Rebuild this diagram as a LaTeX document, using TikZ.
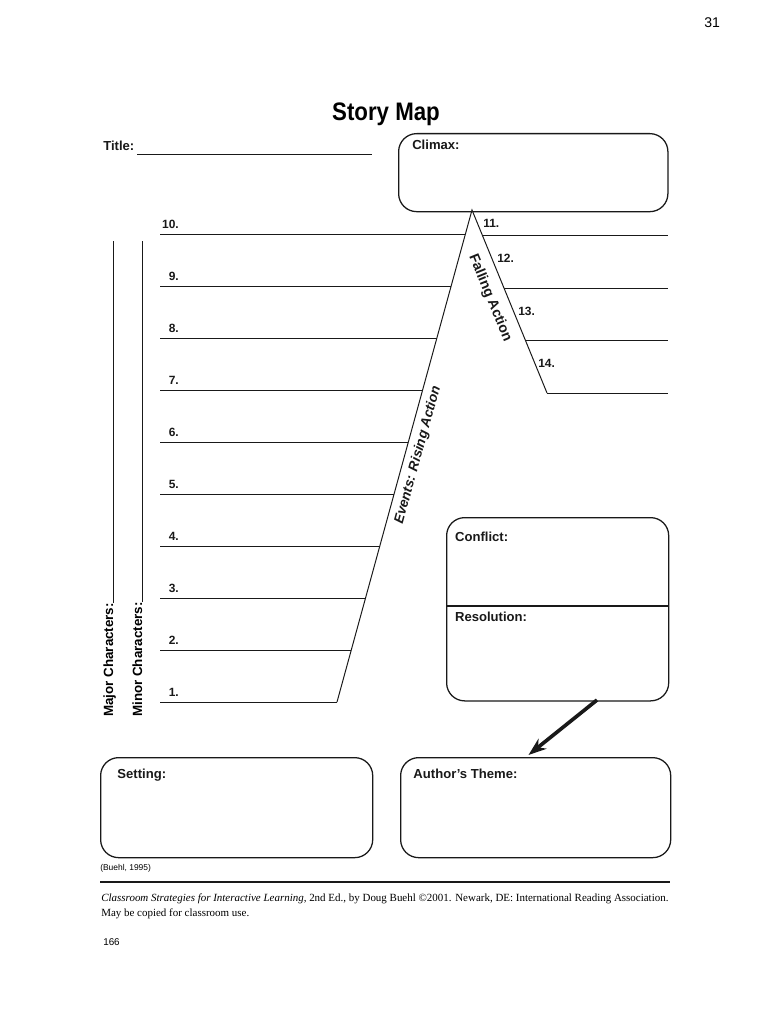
\documentclass[tikz,border=0pt]{standalone}
\usepackage{fontspec}
\setmainfont{Liberation Sans}
\newfontfamily\notefont{Liberation Serif}
\newfontfamily\headfont[FakeStretch=0.88]{Liberation Sans}
\usepackage{xcolor}
\usetikzlibrary{arrows.meta, positioning, calc}
\definecolor{inkDark}{RGB}{25, 25, 25}

\tikzset{
  mapbox/.style={draw=inkDark, line width=0.9pt, rounded corners=0.45cm, anchor=north west, inner sep=0pt},
  boxlabel/.style={font=\bfseries\fontsize{9.3}{11}\selectfont, text=inkDark, anchor=base west, inner sep=0pt},
  eventno/.style={font=\bfseries\fontsize{8.5}{10}\selectfont, text=inkDark, inner sep=0pt},
  writeline/.style={draw=inkDark, line width=0.7pt},
}

\begin{document}
\begin{tikzpicture}[x=0.025cm, y=-0.025cm]
    \useasboundingbox[fill=white] (0,0) rectangle (768,1024);
    % Page number and heading
    \node[anchor=base west, font=\fontsize{10}{12}\selectfont, inner sep=0pt] (pagetop) at (704,28) {31};
    \node[anchor=base, font=\headfont\bfseries\fontsize{18}{20}\selectfont, inner sep=0pt] (heading) at (386,121) {Story Map};
    \node[boxlabel] (titlelbl) at (103,151) {Title:};
    \draw[writeline] (137,154) -- (372,154);
    % Boxes
    \node[mapbox, minimum width=6.73cm, minimum height=1.95cm] (climax) at (398,133) {};
    \node[boxlabel] at ([shift={(0.35cm,-0.42cm)}]climax.north west) {Climax:};
    \node[mapbox, minimum width=5.55cm, minimum height=4.58cm] (conflict) at (446,517) {};
    \draw[writeline, line width=0.9pt] (conflict.west |- 0,606) -- (conflict.east |- 0,606);
    \node[boxlabel] at ([shift={(0.22cm,-0.6cm)}]conflict.north west) {Conflict:};
    \node[boxlabel] at ([shift={(0.22cm,-2.62cm)}]conflict.north west) {Resolution:};
    \node[mapbox, minimum width=6.8cm, minimum height=2.5cm] (setting) at (100,757) {};
    \node[boxlabel] at ([shift={(0.43cm,-0.53cm)}]setting.north west) {Setting:};
    \node[mapbox, minimum width=6.75cm, minimum height=2.5cm] (theme) at (400,757) {};
    \node[boxlabel] at ([shift={(0.33cm,-0.53cm)}]theme.north west) {Author's Theme:};
    % Plot line
    \coordinate (peak) at (472,210);
    \coordinate (risefoot) at (337,702);
    \coordinate (fallfoot) at (547,393);
    \draw[writeline] (risefoot) -- (peak) -- (fallfoot);
    \foreach \n in {1,...,10} {
      \pgfmathsetmacro{\ly}{702-(\n-1)*51.9}
      \pgfmathsetmacro{\lx}{472-(135/492)*(\ly-210)}
      \draw[writeline] (160,\ly) -- (\lx,\ly);
      \node[eventno, anchor=base east] at (179,\ly-6) {\n.};
    }
    \foreach \ly in {235,288,340,393} {
      \pgfmathsetmacro{\lx}{472+(75/183)*(\ly-210)}
      \draw[writeline] (\lx,\ly) -- (668,\ly);
    }
    \foreach \n/\px/\py in {11/483/228, 12/497/263, 13/518/315, 14/538/367}
      \node[eventno, anchor=base west] at (\px,\py) {\n.};
    \node[font=\bfseries\itshape\fontsize{9.7}{11}\selectfont, text=inkDark, rotate=74.65] (risetext) at (418,455) {Events: Rising Action};
    \node[font=\bfseries\fontsize{10}{12}\selectfont, text=inkDark, rotate=-67.7] (falltext) at (490,298) {Falling Action};
    % Characters
    \node[anchor=base west, rotate=90, font=\bfseries\fontsize{9.5}{11}\selectfont, inner sep=0pt] (majorlbl) at (113,717) {Major Characters:};
    \node[anchor=base west, rotate=90, font=\bfseries\fontsize{9.5}{11}\selectfont, inner sep=0pt] (minorlbl) at (142,717) {Minor Characters:};
    \draw[writeline] (majorlbl.base east) -- (majorlbl.base east |- 0,241);
    \draw[writeline] (minorlbl.base east) -- (minorlbl.base east |- 0,241);
    % Arrow to theme
    \coordinate (arrowtail) at (597,700);
    \draw[-{Stealth[length=0.45cm, width=0.32cm]}, line width=2.6pt, inkDark] (arrowtail) -- ([xshift=-0.18cm, yshift=0.05cm]theme.north);
    % Footer
    \node[anchor=base west, font=\fontsize{6}{7}\selectfont, inner sep=0pt] (source) at (100,870) {(Buehl, 1995)};
    \draw[writeline, line width=0.8pt] (100,882) -- (670,882);
    \node[anchor=base west, font=\notefont\fontsize{7.8}{9}\selectfont, inner sep=0pt] (credit) at (101,901) {\textit{Classroom Strategies for Interactive Learning}, 2nd Ed., by Doug Buehl ©2001. Newark, DE: International Reading Association.};
    \node[anchor=base west, font=\notefont\fontsize{7.8}{9}\selectfont, inner sep=0pt] (copynote) at (101,916) {May be copied for classroom use.};
    \node[anchor=base west, font=\fontsize{7}{8}\selectfont, inner sep=0pt] (pagebottom) at (103,945) {166};
\end{tikzpicture}
\end{document}
